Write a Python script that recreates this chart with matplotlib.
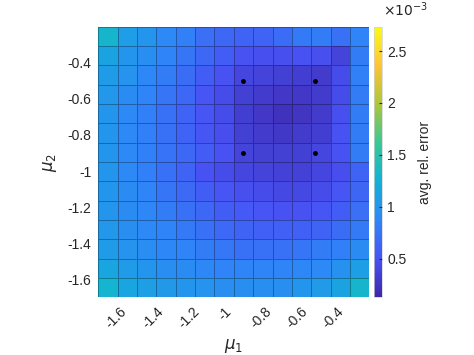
import matplotlib
matplotlib.use('Agg')
import matplotlib.pyplot as plt
import numpy as np
from matplotlib.colors import LinearSegmentedColormap

# parameter grid (cell edges) and avg. rel. error (x1e-3), top row = largest mu2
mu1_edges = np.linspace(-1.7, -0.2, 15)
mu2_edges = np.linspace(-0.2, -1.7, 15)
err = [
    [1.30, 1.07, 1.00, 0.90, 0.82, 0.70, 0.65, 0.62, 0.62, 0.68, 0.78, 0.80, 0.72, 0.85],
    [1.12, 1.00, 0.95, 0.85, 0.75, 0.65, 0.58, 0.50, 0.48, 0.48, 0.50, 0.48, 0.38, 0.80],
    [1.05, 0.98, 0.88, 0.80, 0.68, 0.58, 0.50, 0.40, 0.38, 0.35, 0.33, 0.30, 0.45, 0.82],
    [1.02, 0.92, 0.85, 0.75, 0.65, 0.52, 0.45, 0.35, 0.30, 0.27, 0.27, 0.30, 0.45, 0.80],
    [1.00, 0.90, 0.82, 0.72, 0.63, 0.52, 0.45, 0.33, 0.27, 0.23, 0.25, 0.30, 0.48, 0.80],
    [1.00, 0.90, 0.82, 0.72, 0.63, 0.53, 0.47, 0.35, 0.30, 0.28, 0.30, 0.33, 0.50, 0.80],
    [1.00, 0.90, 0.83, 0.73, 0.65, 0.57, 0.50, 0.38, 0.35, 0.35, 0.35, 0.40, 0.50, 0.80],
    [1.00, 0.90, 0.82, 0.72, 0.63, 0.50, 0.45, 0.40, 0.38, 0.36, 0.36, 0.40, 0.47, 0.62],
    [1.00, 0.92, 0.85, 0.75, 0.67, 0.58, 0.52, 0.48, 0.45, 0.42, 0.42, 0.45, 0.52, 0.64],
    [1.00, 0.92, 0.87, 0.80, 0.72, 0.65, 0.58, 0.55, 0.52, 0.50, 0.50, 0.52, 0.58, 0.70],
    [1.02, 0.95, 0.90, 0.85, 0.78, 0.72, 0.66, 0.62, 0.60, 0.60, 0.60, 0.62, 0.68, 0.78],
    [1.05, 0.98, 0.93, 0.88, 0.85, 0.80, 0.76, 0.72, 0.72, 0.72, 0.75, 0.80, 0.82, 0.92],
    [1.14, 1.05, 1.00, 0.95, 0.92, 0.88, 0.85, 0.85, 0.85, 0.85, 0.88, 0.90, 0.97, 1.08],
    [1.28, 1.14, 1.08, 1.03, 1.00, 0.98, 0.95, 0.95, 0.95, 0.95, 1.00, 1.04, 1.12, 1.30],
]
err_min, err_max = 0.126, 2.735

# training points
train_mu1 = [-0.9, -0.5, -0.9, -0.5]
train_mu2 = [-0.5, -0.5, -0.9, -0.9]

xticks = [-1.6, -1.4, -1.2, -1.0, -0.8, -0.6, -0.4]
xticklabels = ['-1.6', '-1.4', '-1.2', '-1', '-0.8', '-0.6', '-0.4']
yticks = [-0.4, -0.6, -0.8, -1.0, -1.2, -1.4, -1.6]
yticklabels = ['-0.4', '-0.6', '-0.8', '-1', '-1.2', '-1.4', '-1.6']
cbar_ticks = [0.5, 1.0, 1.5, 2.0, 2.5]
cbar_ticklabels = ['0.5', '1', '1.5', '2', '2.5']

# parula(8) anchors
parula = LinearSegmentedColormap.from_list('parula', [
    (0.2422, 0.1504, 0.6603), (0.2810, 0.3228, 0.9579),
    (0.1786, 0.5289, 0.9682), (0.0689, 0.6948, 0.8394),
    (0.2161, 0.7843, 0.5923), (0.6720, 0.7793, 0.2227),
    (0.9970, 0.7659, 0.2199), (0.9769, 0.9839, 0.0805)])

plt.rcParams['font.family'] = ['Liberation Sans', 'DejaVu Sans']
plt.rcParams['font.size'] = 10

fig = plt.figure(figsize=(4.74, 3.55), dpi=100)
ax = fig.add_axes([0.2074, 0.1625, 0.5717, 0.7623])
mesh = ax.pcolormesh(mu1_edges, mu2_edges, np.array(err), cmap=parula,
                     vmin=err_min, vmax=err_max,
                     edgecolors=(0, 0, 0, 0.3), linewidth=0.6)
ax.plot(train_mu1, train_mu2, 'o', color='k', markersize=2.5)
ax.set_xlim(-1.7, -0.2)
ax.set_ylim(-1.7, -0.2)
ax.set_xticks(xticks)
ax.set_xticklabels(xticklabels, rotation=45)
ax.set_yticks(yticks)
ax.set_yticklabels(yticklabels)
ax.tick_params(length=0, pad=5, colors='#262626')
for s in ax.spines.values():
    s.set_visible(False)
ax.set_xlabel(r'$\mu_1$', fontsize=12, color='#262626', labelpad=4)
ax.set_ylabel(r'$\mu_2$', fontsize=12, color='#262626', labelpad=6)

cax = fig.add_axes([0.788, 0.1625, 0.0169, 0.7623])
cb = fig.colorbar(mesh, cax=cax)
cb.set_ticks(cbar_ticks)
cb.set_ticklabels(cbar_ticklabels)
cb.ax.tick_params(length=2, direction='in', colors='#262626', pad=4)
cb.outline.set_edgecolor('#d0d0d0')
cb.outline.set_linewidth(0.5)
cb.set_label('avg. rel. error', color='#262626', labelpad=8)
fig.text(0.808, 0.955, r'$\times10^{-3}$', color='#262626', fontsize=10)

fig.savefig('out.png', dpi=100)
